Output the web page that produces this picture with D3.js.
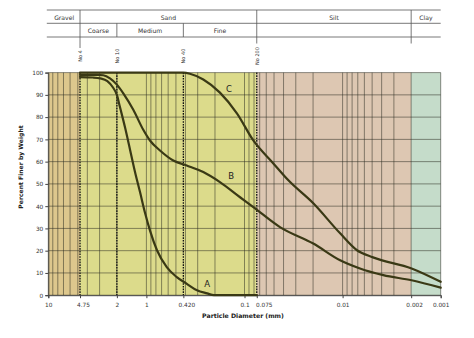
<!DOCTYPE html>
<html>
<head>
<meta charset="utf-8">
<script src="https://cdn.jsdelivr.net/npm/d3@7"></script>
<style>
  body { margin: 0; background: #fff; }
  svg { display: block; font-family: "DejaVu Sans", Verdana, sans-serif; }
</style>
</head>
<body>
<svg id="chart" width="474" height="338"></svg>
<script>
// Soil classes by particle diameter (mm)
const classNames = ["Gravel", "Sand", "Silt", "Clay"];
const classBounds = [[10, 4.75], [4.75, 0.075], [0.075, 0.002], [0.002, 0.001]];
const sandNames = ["Coarse", "Medium", "Fine"];
const sandBounds = [[4.75, 2], [2, 0.42], [0.42, 0.075]];

// Standard sieves
const sieveNames = ["No 4", "No 10", "No 40", "No 200"];
const sieveSizes = [4.75, 2, 0.42, 0.075];

// Axis ticks
const xTickValues = [10, 4.75, 2, 1, 0.42, 0.1, 0.075, 0.01, 0.002, 0.001];
const xTickLabels = ["10", "4.75", "2", "1", "0.420", "0.1", "0.075", "0.01", "0.002", "0.001"];
const yTickValues = [0, 10, 20, 30, 40, 50, 60, 70, 80, 90, 100];

// Grain-size distribution curves: diameter (mm) and percent finer
const diamA = [4.75, 3.5, 2.95, 2.5, 2.19, 2.0, 1.86, 1.65, 1.47, 1.31, 1.16, 1.03, 0.92, 0.78, 0.62, 0.49, 0.39, 0.305, 0.24, 0.205, 0.075];
const finerA = [98, 97.8, 97.4, 96.2, 93.3, 90, 84.5, 75.3, 65.5, 55.6, 46.2, 36.8, 29.1, 20.2, 12.6, 8.1, 5.2, 2.2, 0.8, 0, 0];

const diamB = [4.75, 3.19, 2.75, 2.35, 2.0, 1.72, 1.36, 1.076, 0.92, 0.727, 0.532, 0.388, 0.263, 0.178, 0.111, 0.0813, 0.0435, 0.0199, 0.0106, 0.00665, 0.00385, 0.00198, 0.001];
const finerB = [99, 99, 98.8, 97.4, 94.6, 90.7, 83.3, 74.3, 69.5, 65, 60.5, 58.3, 55.3, 50.8, 44, 39.6, 30.6, 23.2, 15.7, 12, 9, 6.7, 3.4];

const diamC = [4.75, 0.42, 0.36, 0.263, 0.178, 0.119, 0.0813, 0.0508, 0.0357, 0.0199, 0.0106, 0.00713, 0.0049, 0.00198, 0.001];
const finerC = [100, 100, 99.5, 96.9, 91, 81.6, 69.5, 59.2, 51.6, 41.3, 27.8, 20.2, 17, 12, 6];

// Curve names and where each name sits (diameter, percent finer)
const curveNames = ["A", "B", "C"];
const nameDiam = [0.24, 0.137, 0.144];
const nameFiner = [4.9, 53.4, 92.8];

// ---- styling ----
const classFill = ["#ddc78d", "#dcdb8b", "#ddc7b2", "#c5dcca"];
const gridColor = "rgba(45,45,35,0.66)";
const curveColor = "#3a3915";
const textColor = "#333";

const svg = d3.select("#chart");
const plotLeft = 48.3, plotRight = 440.7, plotTop = 72.6, plotBottom = 295.2;

const x = d3.scaleLog().domain([10, 0.001]).range([plotLeft, plotRight]);
const y = d3.scaleLinear().domain([0, 100]).range([plotBottom, plotTop]);

// Class background bands
svg.append("g").selectAll("rect")
  .data(classBounds)
  .join("rect")
  .attr("x", d => x(d[0]))
  .attr("width", d => x(d[1]) - x(d[0]))
  .attr("y", plotTop)
  .attr("height", plotBottom - plotTop)
  .attr("fill", (d, i) => classFill[i]);

// Logarithmic grid: 1..9 within every decade
const minor = [];
for (let e = -3; e <= 0; e++) {
  for (let m = 1; m <= 9; m++) minor.push(m * Math.pow(10, e));
}
minor.push(10);
const grid = svg.append("g").attr("stroke", gridColor).attr("stroke-width", 0.8);
grid.selectAll("line.v")
  .data(minor)
  .join("line")
  .attr("class", "v")
  .attr("x1", d => x(d)).attr("x2", d => x(d))
  .attr("y1", plotTop).attr("y2", plotBottom);
grid.selectAll("line.h")
  .data(yTickValues)
  .join("line")
  .attr("class", "h")
  .attr("x1", plotLeft).attr("x2", plotRight)
  .attr("y1", d => y(d)).attr("y2", d => y(d));

// Sieve lines
svg.append("g").selectAll("line")
  .data(sieveSizes)
  .join("line")
  .attr("x1", d => x(d)).attr("x2", d => x(d))
  .attr("y1", plotTop).attr("y2", plotBottom)
  .attr("stroke", "#111")
  .attr("stroke-width", 1.3)
  .attr("stroke-dasharray", "1.6,1.1");

// Sieve names above the plot
svg.append("g").selectAll("text")
  .data(sieveSizes)
  .join("text")
  .attr("transform", d => `translate(${x(d) + 1.8},56) rotate(-90)`)
  .attr("text-anchor", "middle")
  .attr("font-size", 5)
  .attr("fill", textColor)
  .text((d, i) => sieveNames[i]);

// Axes
const xAxis = d3.axisBottom(x)
  .tickValues(xTickValues)
  .tickFormat((d, i) => xTickLabels[i])
  .tickSize(3)
  .tickPadding(5);
const gx = svg.append("g").attr("transform", `translate(0,${plotBottom})`).call(xAxis);
const labelNudge = { "4.75": 3, "0.420": 3, "0.075": 7, "0.002": 3 };
gx.selectAll(".tick text")
  .attr("font-size", 5.8)
  .attr("fill", textColor)
  .attr("dx", (d, i) => labelNudge[xTickLabels[i]] || 0);

const yAxis = d3.axisLeft(y)
  .tickValues(yTickValues)
  .tickSize(3)
  .tickPadding(2);
const gy = svg.append("g").attr("transform", `translate(${plotLeft},0)`).call(yAxis);
gy.selectAll(".tick text").attr("font-size", 5.8).attr("fill", textColor);

[gx, gy].forEach(g => {
  g.select(".domain").attr("stroke", "#444").attr("stroke-width", 1);
  g.selectAll(".tick line").attr("stroke", "#444");
  g.attr("font-family", null);
});

// Axis titles
svg.append("text")
  .attr("x", 243).attr("y", 318)
  .attr("text-anchor", "middle")
  .attr("font-size", 6.2)
  .attr("font-weight", "bold")
  .attr("fill", "#222")
  .text("Particle Diameter (mm)");
svg.append("text")
  .attr("transform", "translate(23,167) rotate(-90)")
  .attr("text-anchor", "middle")
  .attr("font-size", 6.1)
  .attr("font-weight", "bold")
  .attr("fill", "#222")
  .text("Percent Finer by Weight");

// Curves
const series = [[diamA, finerA], [diamB, finerB], [diamC, finerC]];
const line = d3.line()
  .x(d => x(d[0]))
  .y(d => y(d[1]))
  .curve(d3.curveMonotoneX);
svg.append("g").selectAll("path")
  .data(series.map(([ds, ps]) => ds.map((d, i) => [d, ps[i]])))
  .join("path")
  .attr("d", line)
  .attr("fill", "none")
  .attr("stroke", curveColor)
  .attr("stroke-width", 2.2)
  .attr("stroke-linejoin", "round")
  .attr("stroke-linecap", "round");

svg.append("g").selectAll("text")
  .data(curveNames)
  .join("text")
  .attr("x", (d, i) => x(nameDiam[i]))
  .attr("y", (d, i) => y(nameFiner[i]))
  .attr("dy", "0.36em")
  .attr("text-anchor", "middle")
  .attr("font-size", 8.5)
  .attr("fill", "#222")
  .text(d => d);

// Classification table above the plot
const tableRows = [10, 23.3, 37];
const table = svg.append("g").attr("stroke", "#555").attr("stroke-width", 0.8);
table.selectAll("line.row")
  .data(tableRows)
  .join("line")
  .attr("class", "row")
  .attr("x1", plotLeft - 1.5).attr("x2", plotRight)
  .attr("y1", d => d).attr("y2", d => d);
// class dividers run below the table
const dividers = [4.75, 0.075, 0.002];
const dividerEnd = [48, 43.5, 43.5];
table.selectAll("line.div")
  .data(dividers)
  .join("line")
  .attr("class", "div")
  .attr("x1", d => x(d)).attr("x2", d => x(d))
  .attr("y1", tableRows[0]).attr("y2", (d, i) => dividerEnd[i]);
table.selectAll("line.sub")
  .data([2, 0.42])
  .join("line")
  .attr("class", "sub")
  .attr("x1", d => x(d)).attr("x2", d => x(d))
  .attr("y1", tableRows[1]).attr("y2", tableRows[2]);

svg.append("g").selectAll("text")
  .data(classBounds)
  .join("text")
  .attr("x", d => (x(d[0]) + x(d[1])) / 2)
  .attr("y", 19.6)
  .attr("text-anchor", "middle")
  .attr("font-size", 6.1)
  .attr("fill", textColor)
  .text((d, i) => classNames[i]);
svg.append("g").selectAll("text")
  .data(sandBounds)
  .join("text")
  .attr("x", d => (x(d[0]) + x(d[1])) / 2)
  .attr("y", 33.4)
  .attr("text-anchor", "middle")
  .attr("font-size", 6.1)
  .attr("fill", textColor)
  .text((d, i) => sandNames[i]);
</script>
</body>
</html>
